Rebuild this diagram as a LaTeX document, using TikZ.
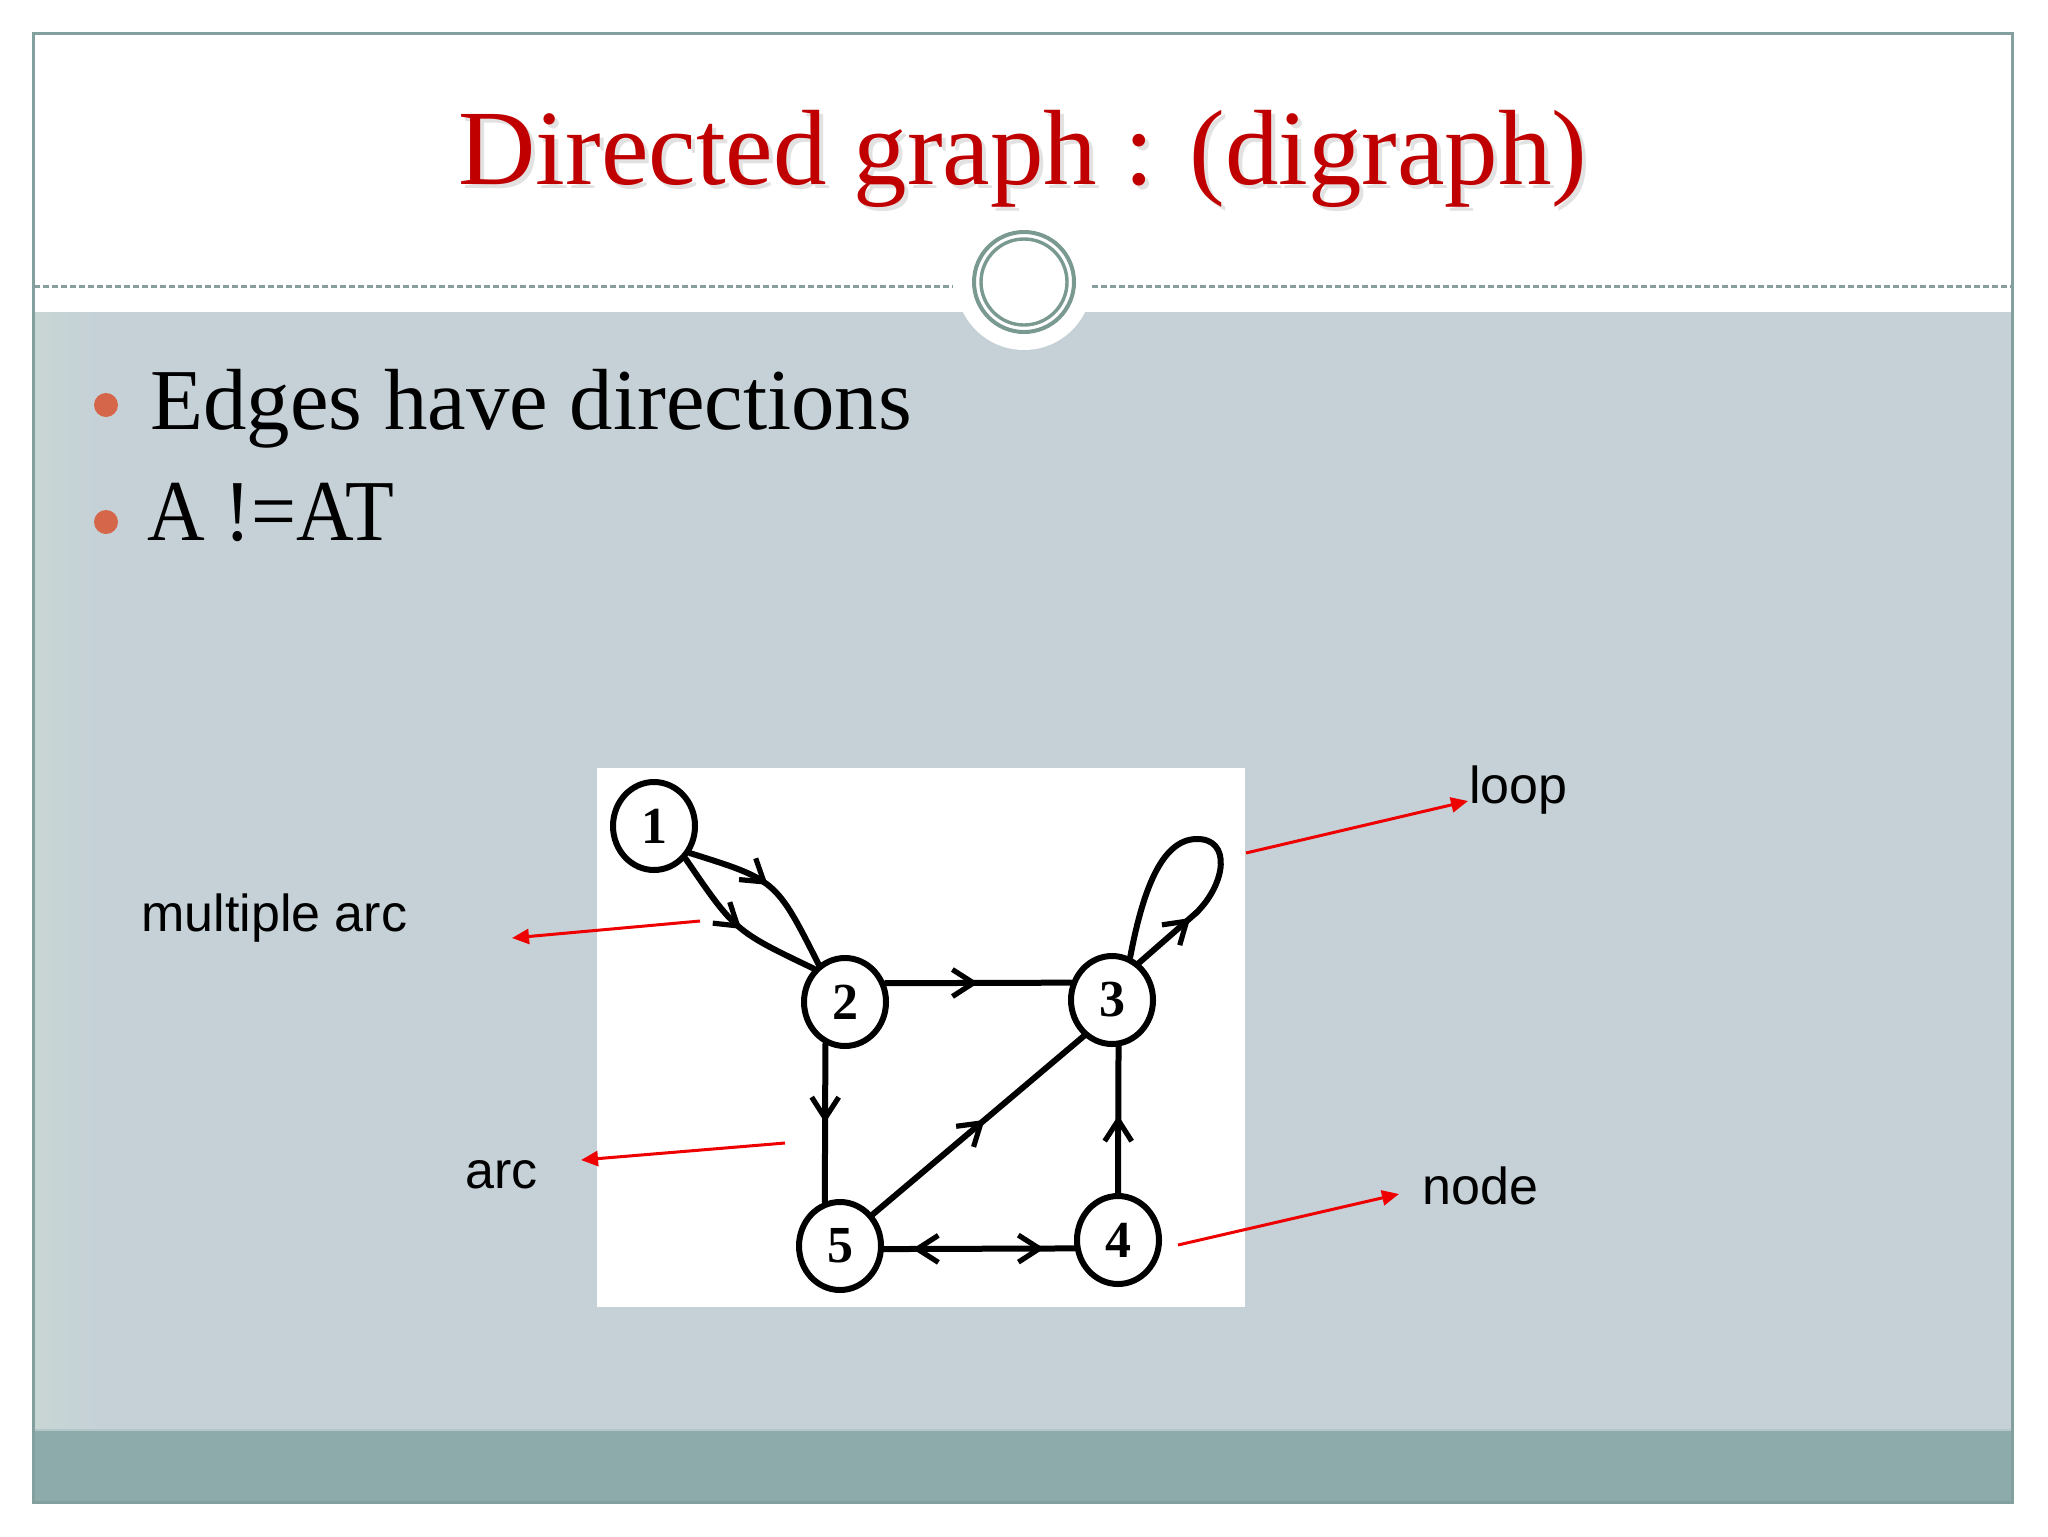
\documentclass[tikz,border=0pt]{standalone}
\usepackage{fontspec}
\setmainfont{Liberation Serif}
\newfontfamily\lsans{Liberation Sans}
\usetikzlibrary{arrows.meta,decorations.markings,shapes.geometric}
\definecolor{bodygray}{RGB}{197,209,215}
\definecolor{bodyleft}{RGB}{200,214,212}
\definecolor{sepline}{RGB}{180,198,202}
\definecolor{bandteal}{RGB}{142,171,172}
\definecolor{framecol}{RGB}{132,160,158}
\definecolor{ringcol}{RGB}{122,154,145}
\definecolor{dashcol}{RGB}{135,158,156}
\definecolor{titlered}{RGB}{192,0,0}
\definecolor{bulletcol}{RGB}{214,102,74}
\definecolor{annred}{RGB}{238,0,0}
\tikzset{
  gbarb/.tip={Straight Barb[length=10.5pt,width=13.5pt,line width=2.6pt]},
  gnode/.style={draw, line width=3pt, ellipse, minimum width=41pt, minimum height=44pt,
    inner sep=0pt, fill=white, font=\bfseries\fontsize{26pt}{30pt}\selectfont},
  edge/.style={line width=3pt, line cap=round},
  midarr/.style={postaction={decorate, decoration={markings, mark=at position #1 with {\arrow{gbarb}}}}},
  redarr/.style={draw=annred, line width=1.5pt, -{Triangle[length=8.5pt,width=7.5pt]}},
  lab/.style={inner sep=0pt, text=black, font=\lsans\fontsize{26pt}{30pt}\selectfont},
}
\begin{document}
\begin{tikzpicture}[x=0.5pt,y=-0.5pt]
\useasboundingbox (0,0) rectangle (2048,1536);
\fill[white] (0,0) rectangle (2048,1536);
% body and band
\fill[bodygray] (33,312) rectangle (2011,1430);
\shade[left color=bodyleft, right color=bodygray] (33,312) rectangle (100,1430);
\fill[bandteal] (33,1430) rectangle (2011,1502);
\draw[sepline, line width=0.8pt] (33,1430) -- (2011,1430);
\draw[framecol, line width=1.5pt] (33,34) rectangle (2012,1502);
% dashed separator
\draw[dashcol, line width=1.5pt, dash pattern=on 3pt off 1.5pt] (34,286) -- (953,286);
\draw[dashcol, line width=1.5pt, dash pattern=on 3pt off 1.5pt] (1092,286) -- (2011,286);
% ornament
\fill[white] (1024,282) circle[radius=68];
\draw[ringcol, line width=2pt] (1024,282) circle[radius=50];
\draw[ringcol, line width=1.7pt] (1024,282) circle[radius=43];
% title
\node[anchor=base, inner sep=0pt, text=black!25, opacity=0.45, font=\fontsize{53.5pt}{60pt}\selectfont] (tshadow) at (1027,188) {Directed graph : (digraph)};
\node[anchor=base, inner sep=0pt, text=titlered, font=\fontsize{53.5pt}{60pt}\selectfont] (title) at (1023,184) {Directed graph : (digraph)};
% bullets
\fill[bulletcol] (106,405) circle[radius=12];
\fill[bulletcol] (106,522) circle[radius=12];
\node[anchor=base west, inner sep=0pt, font=\fontsize{43.4pt}{50pt}\selectfont] (b1) at (150,429) {Edges have directions};
\node[anchor=base west, inner sep=0pt, font=\fontsize{43.4pt}{50pt}\selectfont, xscale=0.92, transform shape] (b2) at (147,540) {A !=AT};
% graph picture
\fill[white] (597,768) rectangle (1245,1307);
\node[gnode] (n1) at (654,826) {1};
\node[gnode] (n2) at (845,1002) {2};
\node[gnode] (n3) at (1112,1000) {3};
\node[gnode] (n4) at (1118,1240) {4};
\node[gnode] (n5) at (840,1246) {5};
\draw[edge, midarr=0.47] (n1.-37) .. controls (776,880) .. (n2.125);
\draw[edge, midarr=0.52] (n1.-46) .. controls (735,931) .. (n2.133);
\draw[edge, midarr=0.5] (n2.25) -- (n3.157);
\draw[edge, midarr=0.5] (n2.245) -- (n5.109);
\draw[edge, midarr=0.53] (n4.north) -- (n3.278);
\draw[edge, midarr=0.53] (n5.44) -- (n3.232);
\draw[edge, postaction={decorate, decoration={markings,
   mark=at position 0.15 with {\arrowreversed{gbarb}},
   mark=at position 0.84 with {\arrow{gbarb}}}}] (n5.-4) -- (n4.191);
\coordinate (lpA) at (1196,913);
\draw[edge, midarr=0.9] (n3.54) -- (lpA);
\draw[edge] (lpA) .. controls (1226,884) and (1232,838) .. (1196,839)
   .. controls (1160,840) and (1142,895) .. (n3.67);
% annotations
\node[lab, anchor=base west] (Lloop) at (1469,803) {loop};
\node[lab, anchor=base west] (Lmulti) at (141,931) {multiple arc};
\node[lab, anchor=base west] (Larc) at (465,1188) {arc};
\node[lab, anchor=base west] (Lnode) at (1422,1204) {node};
\coordinate (la1) at (1246,853);
\coordinate (la2) at (1468,801);
\coordinate (ma1) at (700,921);
\coordinate (ma2) at (512,938);
\coordinate (ar1) at (785,1143);
\coordinate (ar2) at (581,1160);
\coordinate (nd1) at (1178,1245);
\coordinate (nd2) at (1399,1194);
\draw[redarr] (la1) -- (la2);
\draw[redarr] (ma1) -- (ma2);
\draw[redarr] (ar1) -- (ar2);
\draw[redarr] (nd1) -- (nd2);
\end{tikzpicture}
\end{document}
